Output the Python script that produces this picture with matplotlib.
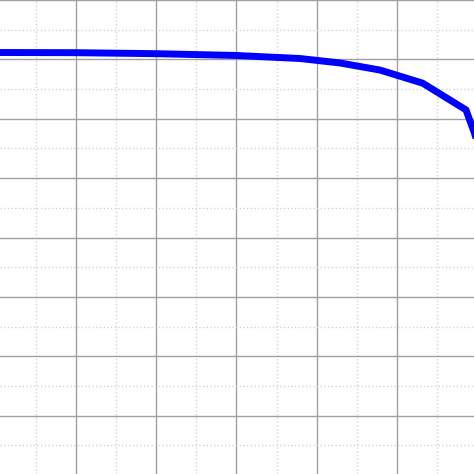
import matplotlib
matplotlib.use("Agg")
import matplotlib.pyplot as plt
from matplotlib.ticker import MultipleLocator

# values (x in grid units, y in grid units below top)
x_vals = [-0.95, 0.0, 1.01, 2.0, 2.79, 3.29, 3.79, 4.32, 4.86, 4.96, 5.05]
y_vals = [-0.884, -0.887, -0.904, -0.934, -0.985, -1.06, -1.18, -1.40, -1.85, -2.22, -2.6]

fig = plt.figure(figsize=(4.74, 4.74), dpi=100)
ax = fig.add_axes([0, 0, 1, 1])

ax.plot(x_vals, y_vals, color="#0000ff", lw=5, solid_joinstyle="miter")

ax.set_xlim(-0.947, 4.96)
ax.set_ylim(-7.98, 0.0)
ax.xaxis.set_major_locator(MultipleLocator(1))
ax.xaxis.set_minor_locator(MultipleLocator(0.5))
ax.yaxis.set_major_locator(MultipleLocator(1))
ax.yaxis.set_minor_locator(MultipleLocator(0.5))
ax.grid(which="major", color="#a0a0a0", lw=1.0, ls="-")
ax.grid(which="minor", color="#d4d4d4", lw=1.0, ls=":")
ax.set_axisbelow(True)
ax.tick_params(which="both", length=0, labelbottom=False, labelleft=False)
for s in ax.spines.values():
    s.set_visible(False)

fig.savefig("out.png", dpi=100)
